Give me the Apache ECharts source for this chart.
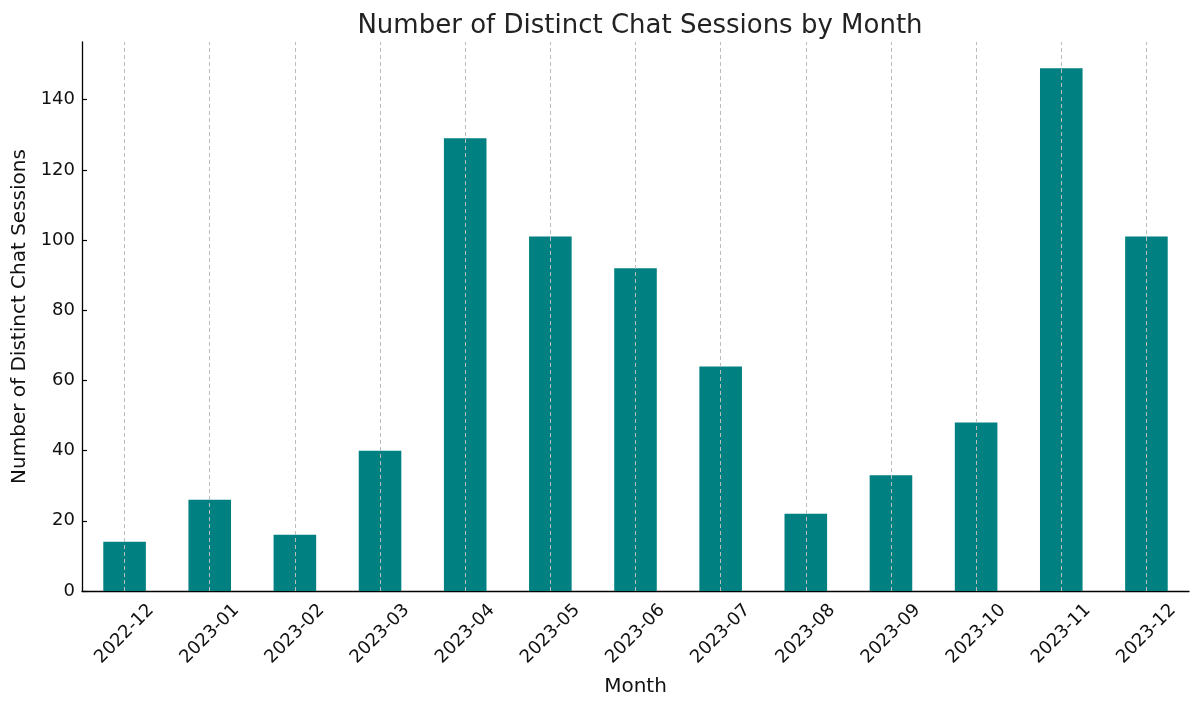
<!DOCTYPE html>
<html>
<head>
    <meta charset="utf-8"/>
    <title>Chat Sessions</title>
    <script src="https://cdn.jsdelivr.net/npm/echarts@6/dist/echarts.min.js"></script>
</head>
<body style="margin:0">
<div id="main" style="width:1200px;height:708px;"></div>
<script type="text/javascript">
    var months = ['2022-12', '2023-01', '2023-02', '2023-03', '2023-04', '2023-05', '2023-06',
        '2023-07', '2023-08', '2023-09', '2023-10', '2023-11', '2023-12'];
    var sessions = [14, 26, 16, 40, 129, 101, 92, 64, 22, 33, 48, 149, 101];
    var yTicks = [0, 20, 40, 60, 80, 100, 120, 140];

    var myChart = echarts.init(document.getElementById('main'));
    var font = 'DejaVu Sans';

    // vertical grid lines through each category centre, drawn over the bars
    var gridLines = months.map(function (m) { return { xAxis: m }; });

    var option = {
        animation: false,
        title: {
            text: 'Number of Distinct Chat Sessions by Month',
            left: 635,
            top: 8,
            textAlign: 'center',
            textStyle: { fontFamily: font, fontSize: 26, fontWeight: 'normal', color: '#222' }
        },
        grid: { left: 82, right: 11, top: 42, bottom: 117 },
        xAxis: {
            type: 'category',
            data: months,
            name: 'Month',
            nameLocation: 'middle',
            nameGap: 86,
            nameTextStyle: { fontFamily: font, fontSize: 20, color: '#111' },
            axisLine: { lineStyle: { color: '#000', width: 1.3 } },
            axisTick: { alignWithLabel: true, inside: true, length: 5, lineStyle: { color: '#000', width: 1.2 } },
            axisLabel: {
                rotate: 45, interval: 0, margin: 43, align: 'center', verticalAlign: 'middle',
                fontFamily: font, fontSize: 18, color: '#111'
            },
            splitLine: { show: false }
        },
        yAxis: {
            type: 'value',
            min: 0,
            max: 156.45,
            interval: 20,
            name: 'Number of Distinct Chat Sessions',
            nameLocation: 'middle',
            nameGap: 52,
            nameTextStyle: { fontFamily: font, fontSize: 20, color: '#111' },
            axisLine: { show: true, lineStyle: { color: '#000', width: 1.3 } },
            axisTick: { show: true, inside: true, length: 5, customValues: yTicks, lineStyle: { color: '#000', width: 1.2 } },
            axisLabel: { customValues: yTicks, margin: 7, fontFamily: font, fontSize: 18, color: '#111' },
            splitLine: { show: false }
        },
        series: [{
            type: 'bar',
            data: sessions,
            barWidth: '50%',
            itemStyle: { color: '#008080' },
            markLine: {
                silent: true,
                symbol: 'none',
                label: { show: false },
                lineStyle: { color: '#bbb', type: [4, 3], width: 1 },
                data: gridLines
            }
        }]
    };
    myChart.setOption(option);
</script>
</body>
</html>
